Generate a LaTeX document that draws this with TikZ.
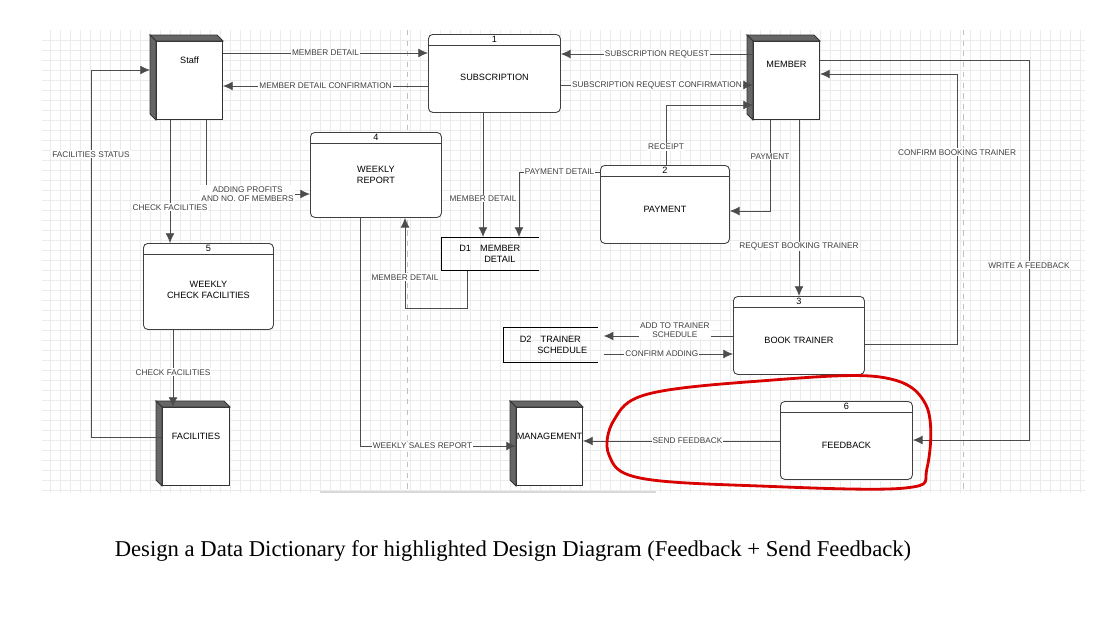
\documentclass[tikz,border=0pt]{standalone}
\usepackage{fontspec}
\setmainfont{Liberation Sans}
\newfontfamily\capfont{Liberation Serif}
\usetikzlibrary{calc,arrows.meta}
\begin{document}
\begin{tikzpicture}[x=0.02cm,y=-0.02cm,
  lbl/.style={font=\fontsize{4.7}{5.4}\selectfont, text=black!75, fill=white, inner sep=0.6pt, align=center},
  ttl/.style={font=\fontsize{5.2}{6.2}\selectfont, align=center},
  box/.style={anchor=north west, inner sep=0pt, fill=white, ttl},
  proc/.style={box, draw=black!75, line width=0.5pt, rounded corners=2.5pt},
  ent/.style={box, draw=black!80, line width=0.6pt},
  flow/.style={draw=black!70, line width=0.45pt, -{Latex[length=5.5pt,width=5pt]}},
  shade/.style={fill=black!60, draw=black!80, line width=0.5pt}]
\useasboundingbox (0,0) rectangle (1115,616);
\fill[white] (0,0) rectangle (1115,616);
% grid
\foreach \x in {50,60,...,1080} \draw[black!8,line width=0.2pt] (\x,30)--(\x,493);
\foreach \y in {40,50,...,490} \draw[black!8,line width=0.2pt] (42,\y)--(1085,\y);
\draw[black!25, dashed, line width=0.3pt] (407,30)--(407,493) (963,30)--(963,493);
\draw[black!15, line width=1.2pt] (320,492)--(656,492);
% entities
\node[ent, minimum width=66*0.02cm, minimum height=78*0.02cm] (staff) at (156,41) {Staff\\[3.2em]};
\node[ent, minimum width=66*0.02cm, minimum height=78*0.02cm] (member) at (753,41) {MEMBER\\[2.4em]};
\node[ent, minimum width=67*0.02cm, minimum height=78*0.02cm] (fac) at (162,407) {FACILITIES\\[1em]};
\node[ent, minimum width=66*0.02cm, minimum height=78*0.02cm] (mgmt) at (516,407) {MANAGEMENT\\[1em]};
\foreach \e in {staff,member,fac,mgmt}{
  \filldraw[shade] (\e.north west)--++(-6,-6)--($(\e.north east)+(-6,-6)$)--(\e.north east)--cycle;
  \filldraw[shade] (\e.north west)--++(-6,-6)--($(\e.south west)+(-6,-6)$)--(\e.south west)--cycle;
}
% processes
\node[proc, minimum width=132*0.02cm, minimum height=78*0.02cm] (sub) at (428,34) {\\[0.4em]SUBSCRIPTION};
\node[proc, minimum width=131*0.02cm, minimum height=85*0.02cm] (wr) at (310,132) {WEEKLY\\REPORT};
\node[proc, minimum width=129*0.02cm, minimum height=78*0.02cm] (pay) at (600,165) {\\[0.6em]PAYMENT};
\node[proc, minimum width=130*0.02cm, minimum height=86*0.02cm] (wcf) at (143,243) {\\[0.2em]WEEKLY\\CHECK FACILITIES};
\node[proc, minimum width=131*0.02cm, minimum height=78*0.02cm] (bt) at (733,296) {\\[0.6em]BOOK TRAINER};
\node[proc, minimum width=132*0.02cm, minimum height=78*0.02cm] (fb) at (780,401) {\\[0.6em]FEEDBACK};
\foreach \p/\n in {sub/1,wr/4,pay/2,wcf/5,bt/3,fb/6}{
  \draw[black!75, line width=0.5pt] ($(\p.north west)+(0,11)$)--($(\p.north east)+(0,11)$);
  \node[ttl, anchor=north, inner sep=1pt] (\p n) at (\p.north) {\n};
}
% stores
\node[box, fill=none, minimum width=97*0.02cm, minimum height=33*0.02cm] (d1) at (441,237) {D1\quad MEMBER\\\hspace*{2.2em}DETAIL};
\draw[black, line width=0.5pt] (d1.north east)--(d1.north west)--(d1.south west)--(d1.south east);
\node[box, fill=none, minimum width=94*0.02cm, minimum height=35*0.02cm] (d2) at (503,327) {D2\quad TRAINER\\\hspace*{2.6em}SCHEDULE};
\draw[black, line width=0.5pt] (d2.north east)--(d2.north west)--(d2.south west)--(d2.south east);
% flows
\draw[flow] (staff.east |- 0,53) -- node[lbl]{MEMBER DETAIL} (sub.west |- 0,53);
\draw[flow] (sub.west |- 0,86) -- node[lbl]{MEMBER DETAIL CONFIRMATION} (staff.east |- 0,86);
\draw[flow] (member.west |- 0,54) -- node[lbl]{SUBSCRIPTION REQUEST} (sub.east |- 0,54);
\draw[flow] (sub.east |- 0,85) -- node[lbl]{SUBSCRIPTION REQUEST CONFIRMATION} (member.west |- 0,85);
\draw[flow] (pay.north -| 666,0) -- node[lbl,pos=0.3]{RECEIPT} (666,105) -- (member.west |- 0,105);
\draw[flow] (member.south -| 770,0) -- node[lbl,pos=0.4]{PAYMENT} (770,211) -- (pay.east |- 0,211);
\draw[flow] (member.south -| 799,0) -- node[lbl,pos=0.72]{REQUEST BOOKING TRAINER} (bt.north -| 799,0);
\draw[flow] (bt.east |- 0,344) -- (957,344) -- node[lbl,pos=0.71]{CONFIRM BOOKING TRAINER} (957,74) -- (member.east |- 0,74);
\draw[flow] (member.east |- 0,60) -- (1029,60) -- node[lbl,pos=0.54]{WRITE A FEEDBACK} (1029,440) -- (fb.east |- 0,440);
\draw[flow] (sub.south -| 483,0) -- node[lbl,pos=0.69]{MEMBER DETAIL} (d1.north -| 483,0);
\draw[flow] (pay.west |- 0,172) -- node[lbl]{PAYMENT DETAIL} (519,172) -- (d1.north -| 519,0);
\draw[flow] (d1.south -| 467,0) -- (467,308) -- (405,308) -- node[lbl,pos=0.34]{MEMBER DETAIL} (wr.south -| 405,0);
\draw[flow] (staff.south -| 206,0) -- (206,194) -- node[lbl,pos=0.4]{ADDING PROFITS\\AND NO. OF MEMBERS} (wr.west |- 0,194);
\draw[flow] (staff.south -| 170,0) -- node[lbl,pos=0.71]{CHECK FACILITIES} (wcf.north -| 170,0);
\draw[flow] (wcf.south -| 173,0) -- node[lbl,pos=0.55]{CHECK FACILITIES} (fac.north -| 173,0);
\draw[flow] (fac.west |- 0,437) -- (91,437) -- node[lbl,pos=0.77]{FACILITIES STATUS} (91,70) -- ($(staff.west |- 0,70)+(-6,0)$);
\draw[flow] (wr.south -| 360,0) -- (360,446) -- node[lbl,pos=0.4]{WEEKLY SALES REPORT} (mgmt.west |- 0,446);
\draw[flow] (bt.west |- 0,336) -- node[lbl,pos=0.45,yshift=0.12cm]{ADD TO TRAINER\\SCHEDULE} ($(d2.east |- 0,336)+(6,0)$);
\draw[flow] ($(d2.east |- 0,354)+(6,0)$) -- node[lbl,pos=0.45]{CONFIRM ADDING} (bt.west |- 0,354);
\draw[flow] (fb.west |- 0,441) -- node[lbl,pos=0.47]{SEND FEEDBACK} (mgmt.east |- 0,441);
% highlight
\draw[red!85!black, line width=1.6pt]
  plot[smooth cycle, tension=0.6] coordinates {(648,394) (760,381) (880,377) (926,405) (927,468) (905,488) (760,486) (640,478) (609,455) (614,420)};
% caption
\node[font=\capfont\fontsize{12.9}{15}\selectfont] (cap) at (513,551) {Design a Data Dictionary for highlighted Design Diagram (Feedback + Send Feedback)};
\end{tikzpicture}
\end{document}
